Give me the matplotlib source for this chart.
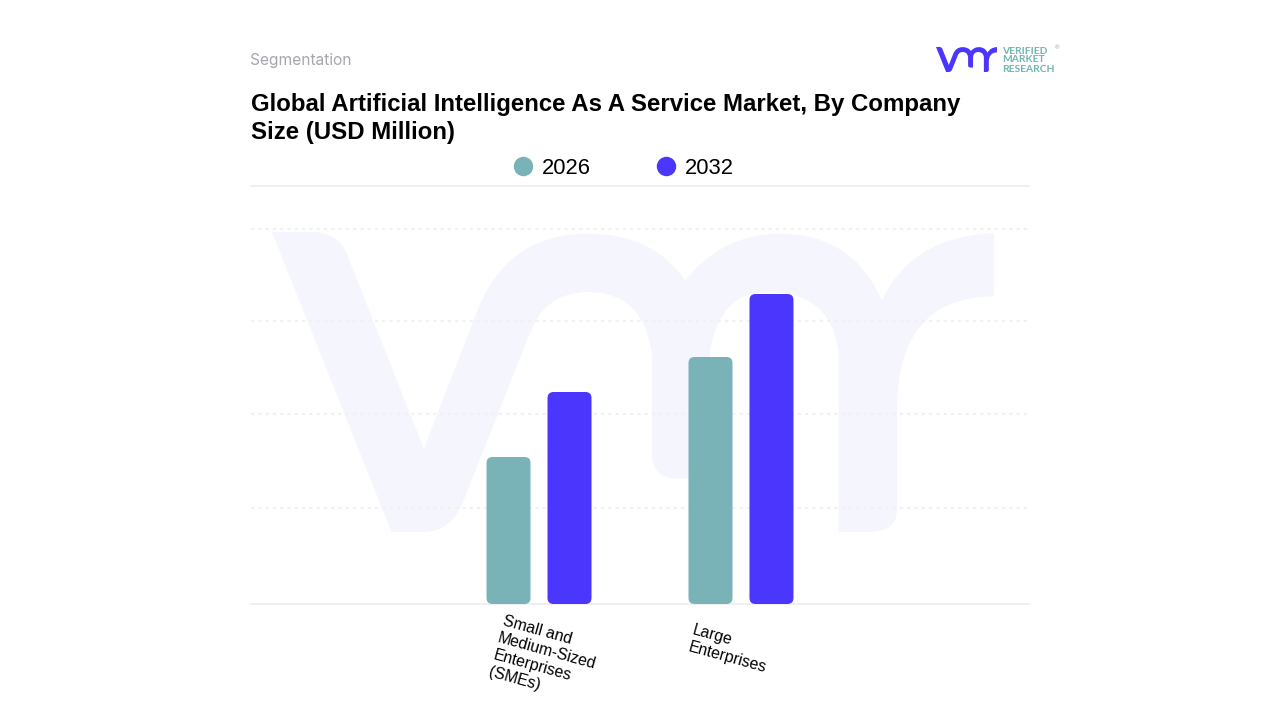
import matplotlib
matplotlib.use("Agg")
import matplotlib.pyplot as plt
from matplotlib.lines import Line2D
from matplotlib.patches import FancyBboxPatch, PathPatch
from matplotlib.path import Path
from matplotlib.transforms import ScaledTranslation

plt.rcParams['font.family'] = ['Liberation Sans', 'DejaVu Sans']

categories = ["Small and\nMedium-Sized\nEnterprises\n(SMEs)", "Large\nEnterprises"]
years = ["2026", "2032"]
values_2026 = [147, 247]
values_2032 = [212, 310]
grid_values = [96, 190, 283, 375]

TEAL = "#7ab3b7"
BLUE = "#4b36fd"
W, H = 1280, 720

# outline of the vmr mark, unit box is 1450 x 900
M, L, C = Path.MOVETO, Path.LINETO, Path.CURVE3
logo = [
    (M, 0, 0), (L, 85, 0), (C, 135, 5), (C, 150, 65), (L, 305, 650),
    (L, 410, 245), (C, 470, 5), (C, 635, 5), (C, 765, 5), (C, 830, 145),
    (C, 905, 5), (C, 1020, 5), (C, 1165, 5), (C, 1225, 205),
    (C, 1285, 15), (C, 1450, 3), (L, 1450, 193), (C, 1255, 195), (C, 1255, 535),
    (L, 1255, 835), (C, 1255, 900), (C, 1195, 900), (L, 1138, 900),
    (L, 1138, 365), (C, 1125, 180), (C, 995, 180), (C, 900, 180), (C, 880, 355),
    (L, 880, 740), (L, 815, 740), (C, 763, 740), (C, 763, 665), (L, 763, 365),
    (C, 745, 180), (C, 635, 180), (C, 545, 180), (C, 515, 315), (L, 385, 805),
    (C, 360, 900), (C, 305, 900), (L, 240, 900), (L, 0, 0),
]


def draw_logo(ax, x0, y0, x1, y1, color):
    sx, sy = (x1 - x0) / 1450, (y1 - y0) / 900
    verts = [(x0 + p[1] * sx, y0 + p[2] * sy) for p in logo]
    codes = [p[0] for p in logo]
    ax.add_patch(PathPatch(Path(verts, codes), fc=color, ec="none"))


fig = plt.figure(figsize=(12.8, 7.2), dpi=100, facecolor="white")

# background layer in pixel coordinates, for the watermark and header
bg = fig.add_axes([0, 0, 1, 1])
bg.set_xlim(0, W)
bg.set_ylim(H, 0)
bg.axis("off")
draw_logo(bg, 272, 232, 994, 532, "#f5f6fd")
draw_logo(bg, 936, 47, 997, 72, BLUE)

bg.text(250, 60.5, "Segmentation", fontsize=11.2, color="#a6a6ad", va="center",
        family=["Inter", "DejaVu Sans"])
bg.text(251, 118.5, "Global Artificial Intelligence As A Service Market, By Company\nSize (USD Million)",
        fontsize=17.25, fontweight="bold", color="black", va="center", linespacing=1.29)
for y, word in [(51, "VERIFIED"), (60, "MARKET"), (69, "RESEARCH")]:
    bg.text(1002, y, word, fontsize=7.4, color="#6fb5b2", va="center",
            family=["Lato", "DejaVu Sans"], fontweight="bold")
bg.text(1057, 48, "®", fontsize=4.5, color="#9a9aa0", va="center", ha="center")

ax = fig.add_axes([251 / W, (H - 604) / H, 778 / W, 418 / H])
ax.patch.set_alpha(0)
ax.set_xlim(-1.426, 2.426)
ax.set_ylim(0, 418)

bar_w = 44 / 202
offset = 30.5 / 202
for i in range(len(categories)):
    for v, shift, col in [(values_2026[i], -offset, TEAL), (values_2032[i], offset, BLUE)]:
        ax.add_patch(FancyBboxPatch((i + shift - bar_w / 2, 0), bar_w, v,
                                    boxstyle="round,pad=0,rounding_size=0.03",
                                    mutation_aspect=202, fc=col, ec="none", zorder=3))

ax.set_yticks(grid_values)
ax.set_yticklabels([])
ax.yaxis.grid(True, color="#f1f1f3", lw=1.5, ls=(0, (1.5, 2)))
ax.set_axisbelow(True)
ax.tick_params(length=0)
for side in ["left", "right"]:
    ax.spines[side].set_visible(False)
for side in ["top", "bottom"]:
    ax.spines[side].set_color("#efeff3")
    ax.spines[side].set_linewidth(1.3)

ax.set_xticks(range(len(categories)))
ax.set_xticklabels(categories, rotation=-15.5, ha="left", va="top", rotation_mode="anchor",
                   fontsize=11.4, linespacing=1.2)
for label, dx, dy in zip(ax.get_xticklabels(), [-34, -46], [-5, -14]):
    label.set_transform(label.get_transform() + ScaledTranslation(dx / 100, dy / 100, fig.dpi_scale_trans))

handles = [Line2D([], [], ls="", marker="o", ms=14, color=c, mec="none") for c in [TEAL, BLUE]]
ax.legend(handles, years, ncol=2, frameon=False, fontsize=15.8, loc="center",
          bbox_to_anchor=((623 - 251) / 778, 1 + 18 / 418), columnspacing=2.95, handlelength=1,
          handletextpad=0.34, borderpad=0, borderaxespad=0)

fig.savefig("out.png", dpi=100)
